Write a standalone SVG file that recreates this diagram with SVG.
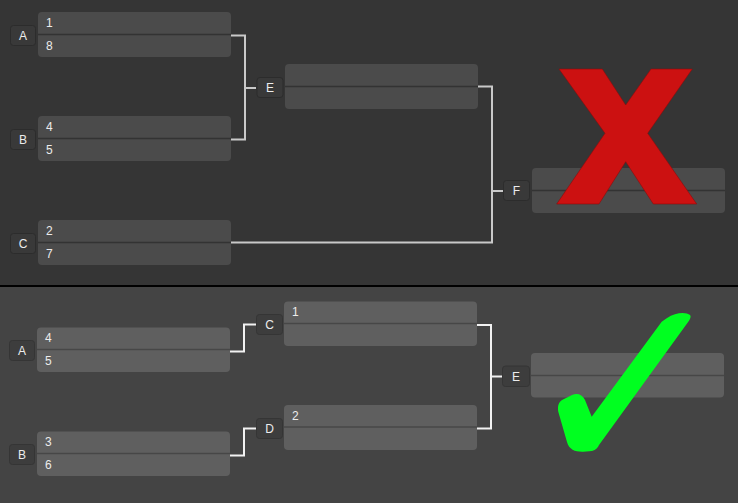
<svg xmlns="http://www.w3.org/2000/svg" width="738" height="503" viewBox="0 0 738 503">
<style>
text{font-family:"Liberation Sans",Arial,sans-serif;font-size:12px;fill:#ececec}
.lbl text{text-anchor:middle}
.t .box{fill:#4b4b4b}
.b .box{fill:#5f5f5f}
.t .div{stroke:#333;stroke-width:1.5}
.b .div{stroke:#474747;stroke-width:1.5}
.t .tag{fill:#393939;stroke:#2c2c2c;stroke-width:1}
.b .tag{fill:#3d3d3d;stroke:#353535;stroke-width:1}
.ct path{fill:none;stroke:#c9c9c9;stroke-width:2}
.cb path{fill:none;stroke:#f2f2f2;stroke-width:2}
</style>
<rect x="0" y="0" width="738" height="285" fill="#353535"/>
<rect x="0" y="287" width="738" height="216" fill="#444444"/>
<rect x="0" y="285" width="738" height="2" fill="#000"/>

<g class="ct" id="connectors-top">
<path d="M231 35.5H245V139.5H231M245 88H256"/>
<path d="M478 86.5H492V242.5H231M492 191H503"/>
</g>
<g class="cb" id="connectors-bottom">
<path d="M230 351.5H244V324.5H256"/>
<path d="M230 455.5H244V428.5H256"/>
<path d="M477 325H491V428.5H477M491 376.5H502"/>
</g>

<g class="t">
<g id="top-A">
<rect class="tag" x="10.5" y="25.5" width="25" height="20" rx="3"/>
<text x="23" y="39.5" text-anchor="middle">A</text>
<rect class="box" x="38" y="12" width="193" height="45" rx="4"/>
<line class="div" x1="38" y1="34.5" x2="231" y2="34.5"/>
<text x="46" y="27">1</text>
<text x="46" y="50">8</text>
</g>
<g id="top-B">
<rect class="tag" x="10.5" y="129.5" width="25" height="20" rx="3"/>
<text x="23" y="143.5" text-anchor="middle">B</text>
<rect class="box" x="38" y="116" width="193" height="45" rx="4"/>
<line class="div" x1="38" y1="138.5" x2="231" y2="138.5"/>
<text x="46" y="131">4</text>
<text x="46" y="154">5</text>
</g>
<g id="top-C">
<rect class="tag" x="10.5" y="233.5" width="25" height="20" rx="3"/>
<text x="23" y="247.5" text-anchor="middle">C</text>
<rect class="box" x="38" y="220" width="193" height="45" rx="4"/>
<line class="div" x1="38" y1="242.5" x2="231" y2="242.5"/>
<text x="46" y="235">2</text>
<text x="46" y="258">7</text>
</g>
<g id="top-E">
<rect class="tag" x="257" y="77.5" width="26" height="20" rx="3"/>
<text x="270" y="91.5" text-anchor="middle">E</text>
<rect class="box" x="285" y="64" width="193" height="45" rx="4"/>
<line class="div" x1="285" y1="86.5" x2="478" y2="86.5"/>
</g>
<g id="top-F">
<rect class="tag" x="503.5" y="180.5" width="26" height="20" rx="3"/>
<text x="516.5" y="194.5" text-anchor="middle">F</text>
<rect class="box" x="532" y="168" width="193" height="45" rx="4"/>
<line class="div" x1="532" y1="190.5" x2="725" y2="190.5"/>
</g>
</g>

<polygon id="cross" points="559,69 602.3,69 625.7,105 651,69 692.3,69 647.7,133.3 696.7,204 653.3,204 625.7,161.7 599,204 556.7,204 605,133.3" fill="#cc1111" stroke="#8a0c0c" stroke-width="0.6"/>

<g class="b">
<g id="bot-A">
<rect class="tag" x="9.5" y="340.5" width="25" height="20" rx="3"/>
<text x="22" y="354.5" text-anchor="middle">A</text>
<rect class="box" x="37" y="327.5" width="193" height="44.5" rx="4"/>
<line class="div" x1="37" y1="349.5" x2="230" y2="349.5"/>
<text x="45" y="342">4</text>
<text x="45" y="365">5</text>
</g>
<g id="bot-B">
<rect class="tag" x="9.5" y="444.5" width="25" height="20" rx="3"/>
<text x="22" y="458.5" text-anchor="middle">B</text>
<rect class="box" x="37" y="431.5" width="193" height="44.5" rx="4"/>
<line class="div" x1="37" y1="453.5" x2="230" y2="453.5"/>
<text x="45" y="446">3</text>
<text x="45" y="469">6</text>
</g>
<g id="bot-C">
<rect class="tag" x="256.5" y="314.5" width="26" height="20" rx="3"/>
<text x="269.5" y="328.5" text-anchor="middle">C</text>
<rect class="box" x="284" y="301.5" width="193" height="44.5" rx="4"/>
<line class="div" x1="284" y1="323.5" x2="477" y2="323.5"/>
<text x="292" y="316">1</text>
</g>
<g id="bot-D">
<rect class="tag" x="256.5" y="418.5" width="26" height="20" rx="3"/>
<text x="269.5" y="432.5" text-anchor="middle">D</text>
<rect class="box" x="284" y="405" width="193" height="45" rx="4"/>
<line class="div" x1="284" y1="427" x2="477" y2="427"/>
<text x="292" y="420">2</text>
</g>
<g id="bot-E">
<rect class="tag" x="502.5" y="366" width="27" height="20.5" rx="3"/>
<text x="516" y="380.5" text-anchor="middle">E</text>
<rect class="box" x="531" y="353" width="193" height="44.5" rx="4"/>
<line class="div" x1="531" y1="375.5" x2="724" y2="375.5"/>
</g>
</g>

<path id="check" d="M690 315 C686 312 676 312 666.7 318.3 L661.7 321.7 L591.7 416.7 L585 400 C582 394 577 393 572 395 L563 399.5 C558 402 557.5 407 558.3 411.7 L567 442 C569 450 576 452 583.3 451.7 L592 451 C596 450 598 447 599 445 L688.3 321.7 C691 318 691 316 690 315 Z" fill="#00ff20"/>
</svg>
